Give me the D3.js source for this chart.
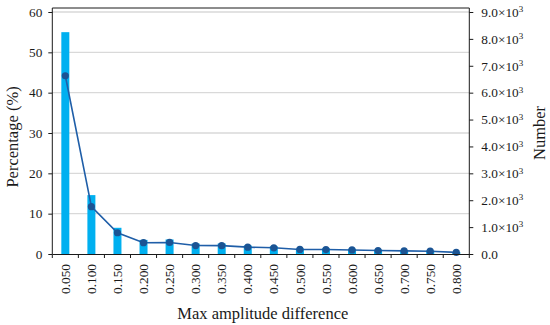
<!DOCTYPE html>
<html>
<head>
<meta charset="utf-8">
<script src="https://cdn.jsdelivr.net/npm/d3@7"></script>
<style>
  body { margin: 0; background: #fff; }
  svg { font-family: "Liberation Serif", "Times New Roman", serif; }
</style>
</head>
<body>
<svg id="chart"></svg>
<script>
// data
const categories = ["0.050", "0.100", "0.150", "0.200", "0.250", "0.300", "0.350", "0.400",
                    "0.450", "0.500", "0.550", "0.600", "0.650", "0.700", "0.750", "0.800"]
const percentage = [55.0, 14.6, 6.5, 3.5, 3.6, 2.6, 2.6, 2.1, 1.9, 1.4, 1.4, 1.3, 1.1, 1.0, 0.9, 0.5]
const number = [6630, 1760, 790, 420, 430, 315, 310, 255, 230, 170, 165, 150, 130, 115, 105, 60]
const leftTicks = [0, 10, 20, 30, 40, 50, 60]
const rightTicks = [0, 1000, 2000, 3000, 4000, 5000, 6000, 7000, 8000, 9000]

const width = 550, height = 325
const plotL = 52.3, plotR = 469.3, plotT = 12, plotB = 254
const ink = '#1a1a1a'
const tickFont = 13.3
const titleFont = 16.5

let svg = d3.select('#chart')
    .attr('width', width)
    .attr('height', height)

let x = d3.scaleBand().domain(categories).range([plotL, plotR])
let yL = d3.scaleLinear().domain([0, 60]).range([plotB, plotT])
let yR = d3.scaleLinear().domain([0, 9000]).range([plotB, plotT])

// gridlines
svg.append('g')
    .selectAll('line')
    .data(leftTicks.filter(d => d > 0))
    .join('line')
    .attr('x1', plotL).attr('x2', plotR)
    .attr('y1', d => yL(d)).attr('y2', d => yL(d))
    .attr('stroke', '#d9d9d9')
    .attr('stroke-width', 1.3)

// bars
const barW = 8
svg.append('g')
    .selectAll('rect')
    .data(percentage)
    .join('rect')
    .attr('x', (d, i) => x(categories[i]) + x.bandwidth() / 2 - barW / 2)
    .attr('y', d => yL(d))
    .attr('width', barW)
    .attr('height', d => plotB - yL(d))
    .attr('fill', '#00b0f0')

// line + points
let line = d3.line()
    .x((d, i) => x(categories[i]) + x.bandwidth() / 2)
    .y(d => yR(d))

svg.append('path')
    .attr('d', line(number))
    .attr('fill', 'none')
    .attr('stroke', '#1f5ea8')
    .attr('stroke-width', 1.6)

svg.append('g')
    .selectAll('circle')
    .data(number)
    .join('circle')
    .attr('cx', (d, i) => x(categories[i]) + x.bandwidth() / 2)
    .attr('cy', d => yR(d))
    .attr('r', 3.6)
    .attr('fill', '#1b5494')

// frame top
svg.append('line')
    .attr('x1', plotL).attr('x2', plotR)
    .attr('y1', 8).attr('y2', 8)
    .attr('stroke', ink).attr('stroke-width', 1)

// left axis
let gL = svg.append('g')
    .attr('transform', `translate(${plotL},0)`)
    .call(d3.axisLeft(yL).tickValues(leftTicks).tickSize(4).tickSizeOuter(0))
gL.select('.domain').attr('d', `M0,8V${plotB}`).attr('stroke', ink)
gL.selectAll('.tick line').attr('stroke', ink)
gL.selectAll('.tick text')
    .attr('font-family', '"Liberation Serif", serif')
    .attr('font-size', tickFont)
    .attr('fill', ink)
    .attr('x', -10)

// right axis
let gR = svg.append('g')
    .attr('transform', `translate(${plotR},0)`)
    .call(d3.axisRight(yR).tickValues(rightTicks).tickSize(4).tickSizeOuter(0).tickFormat(''))
gR.select('.domain').attr('d', `M0,8V${plotB}`).attr('stroke', ink)
gR.selectAll('.tick line').attr('stroke', ink)
gR.selectAll('.tick text').each(function (d) {
    let t = d3.select(this)
        .attr('x', 12)
        .attr('font-family', '"Liberation Serif", serif')
        .attr('font-size', tickFont)
        .attr('fill', ink)
    if (d === 0) {
        t.text('0.0')
    } else {
        t.text((d / 1000).toFixed(1) + '×10')
        t.append('tspan').attr('font-size', 9).attr('dy', -4.5).text('3')
    }
})

// x axis
let gX = svg.append('g')
    .attr('transform', `translate(0,${plotB})`)
    .call(d3.axisBottom(x).tickSize(0).tickSizeOuter(0))
gX.select('.domain').attr('stroke', ink)
gX.selectAll('.tick text')
    .attr('font-family', '"Liberation Serif", serif')
    .attr('font-size', tickFont)
    .attr('fill', ink)
    .attr('transform', 'rotate(-90)')
    .attr('text-anchor', 'end')
    .attr('x', -10)
    .attr('y', 0)
    .attr('dy', '0.35em')

// tick marks at category boundaries
let bounds = categories.map(c => x(c)).concat([plotR])
svg.append('g')
    .selectAll('line')
    .data(bounds)
    .join('line')
    .attr('x1', d => d).attr('x2', d => d)
    .attr('y1', plotB).attr('y2', plotB + 4)
    .attr('stroke', ink)

// axis titles
svg.append('text')
    .attr('x', (plotL + plotR) / 2 + 2)
    .attr('y', 319)
    .attr('text-anchor', 'middle')
    .attr('font-size', titleFont)
    .attr('fill', ink)
    .text('Max amplitude difference')

svg.append('text')
    .attr('transform', `translate(18,137) rotate(-90)`)
    .attr('text-anchor', 'middle')
    .attr('font-size', titleFont)
    .attr('fill', ink)
    .text('Percentage (%)')

svg.append('text')
    .attr('transform', `translate(545,133) rotate(-90)`)
    .attr('text-anchor', 'middle')
    .attr('font-size', titleFont)
    .attr('fill', ink)
    .text('Number')
</script>
</body>
</html>
